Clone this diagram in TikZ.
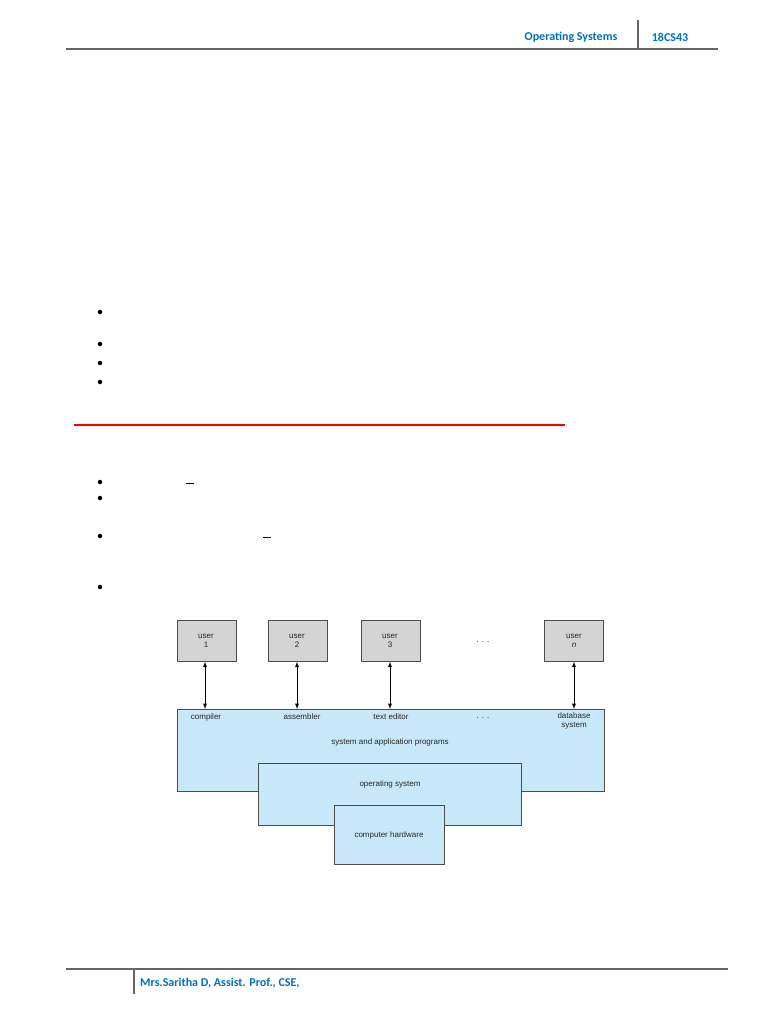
\documentclass[tikz,border=0pt]{standalone}
\usepackage{fontspec}
\setmainfont{Carlito}
\newfontfamily\hv{Liberation Sans}
\definecolor{hblue}{RGB}{0,112,192}
\definecolor{lblue}{RGB}{200,232,250}
\definecolor{ugray}{RGB}{212,212,212}
\begin{document}
\begin{tikzpicture}[x=1pt,y=-1pt,
  ubox/.style={draw=black!70,fill=ugray,line width=0.7pt},
  bbox/.style={draw=black!70,fill=lblue,line width=0.7pt},
  lab/.style={font=\hv\fontsize{8}{9}\selectfont,align=center,inner sep=0pt,text=black!85},
  hdr/.style={font=\bfseries\fontsize{12}{14}\selectfont,text=hblue,inner sep=0pt},
  bul/.style={circle,fill=black,inner sep=0pt,minimum size=4.5pt},
  arr/.style={<->,>=latex,line width=0.9pt}]
\useasboundingbox (0,0) rectangle (768,1024);
\fill[white] (0,0) rectangle (768,1024);
% header
\draw[gray!80!black,line width=1.8pt] (66,49) -- (718,49);
\draw[gray!80!black,line width=1.5pt] (638,20) -- (638,49);
\node[hdr] (h1) at (571,37) {Operating Systems};
\node[hdr] (h2) at (670,37) {18CS43};
% footer
\draw[gray!80!black,line width=1.8pt] (66,969) -- (728,969);
\draw[gray!80!black,line width=1.5pt] (134,969) -- (134,994);
\node[hdr,anchor=west] (f1) at (140,983) {Mrs.Saritha D, Assist. Prof., CSE,};
% bullets
\foreach \y/\n in {312/b1,344/b2,363/b3,382/b4,482/b5,498/b6,536/b7,587/b8}
  \node[bul] (\n) at (100,\y) {};
\draw (186,483) -- (194,483);
\draw (263,537) -- (271,537);
\draw[red,line width=1.5pt] (74,425) -- (565,425);
% diagram
\node[ubox,minimum width=59pt,minimum height=41pt,anchor=north west] (u1) at (177,620) {};
\node[ubox,minimum width=59pt,minimum height=41pt,anchor=north west] (u2) at (268,620) {};
\node[ubox,minimum width=59pt,minimum height=41pt,anchor=north west] (u3) at (361,620) {};
\node[ubox,minimum width=59pt,minimum height=41pt,anchor=north west] (un) at (544,620) {};
\node[lab] at (206,641) {user\\1};
\node[lab] at (297,641) {user\\2};
\node[lab] at (390,641) {user\\3};
\node[lab] at (574,641) {user\\\textit{n}};
\node[lab] (d1) at (483,642) {. . .};
\node[bbox,minimum width=427pt,minimum height=82pt,anchor=north west] (sap) at (177,709) {};
\node[bbox,minimum width=263pt,minimum height=62pt,anchor=north west] (os) at (258,763) {};
\node[bbox,minimum width=110pt,minimum height=59pt,anchor=north west] (hw) at (334,805) {};
\coordinate (a1) at (205,709); \coordinate (a2) at (297,709);
\coordinate (a3) at (390,709); \coordinate (a4) at (574,709);
\draw[arr] (u1.south -| a1) -- (a1);
\draw[arr] (u2.south -| a2) -- (a2);
\draw[arr] (u3.south -| a3) -- (a3);
\draw[arr] (un.south -| a4) -- (a4);
\node[lab] at (206,717) {compiler};
\node[lab] at (302,717) {assembler};
\node[lab] at (391,717) {text editor};
\node[lab] at (483,718) {. . .};
\node[lab] at (574,721) {database\\system};
\node[lab] at (390,742) {system and application programs};
\node[lab] at (390,784) {operating system};
\node[lab] at (389,835) {computer hardware};
\end{tikzpicture}
\end{document}
